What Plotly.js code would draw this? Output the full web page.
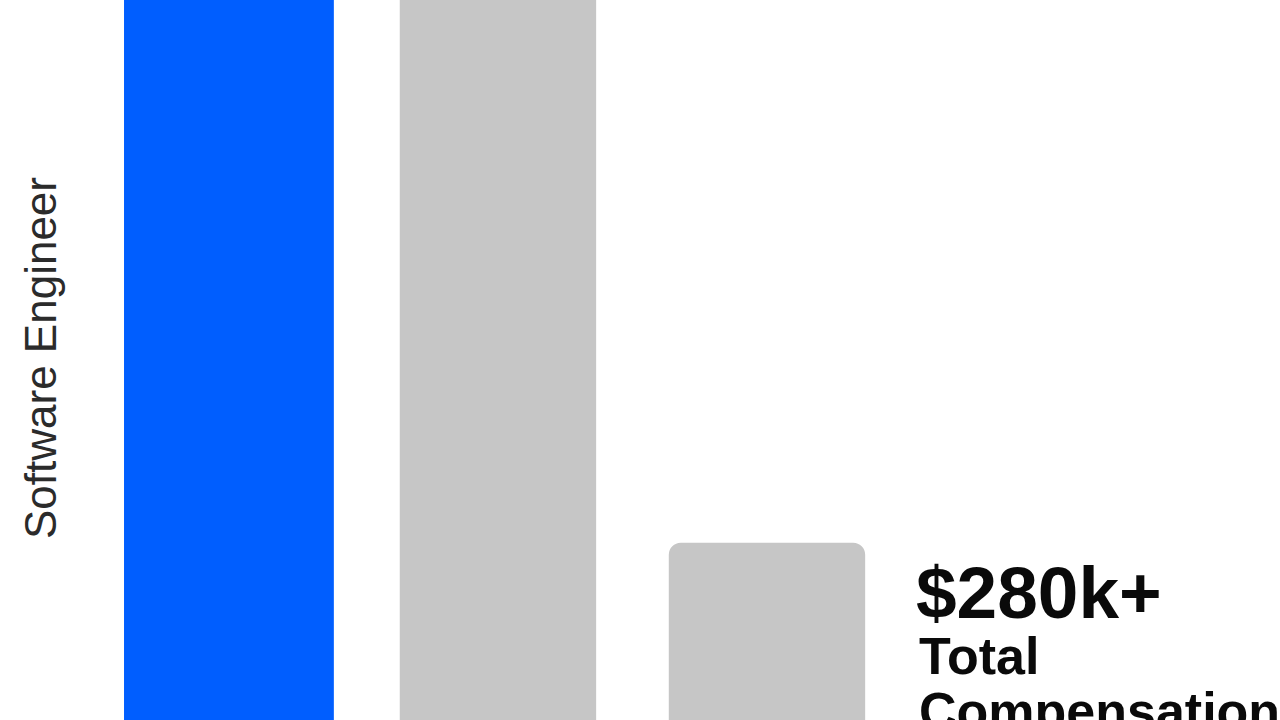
<!DOCTYPE html>
<html>
<head>
<meta charset="utf-8">
<script src="https://cdn.plot.ly/plotly-3.0.1.min.js"></script>
<style>
html,body{margin:0;padding:0;background:#fff;overflow:hidden;}
#chart{width:1280px;height:720px;}
</style>
</head>
<body>
<div id="chart"></div>
<script>
// Data
const categories = [0, 1, 2];
const roles = ["Software Engineer", "Comparison A", "Comparison B"];
const values = [620, 560, 280]; // $k, first two exceed the visible area
const barColors = ["#005EFF", "#C6C6C6", "#C6C6C6"];
const barWidths = [0.78, 0.73, 0.73];
const headline = "$280k+";
const subline1 = "Total";
const subline2 = "Compensation";
const sideLabel = "Software Engineer";

const trace = {
  type: "bar",
  x: categories,
  y: values,
  width: barWidths,
  marker: {color: barColors, cornerradius: 12, line: {width: 0}},
  hoverinfo: "skip"
};

const font = "Liberation Sans, Arial, Helvetica, sans-serif";

const layout = {
  width: 1280, height: 720,
  margin: {l: 0, r: 0, t: 0, b: 0, pad: 0},
  paper_bgcolor: "#ffffff",
  plot_bgcolor: "#ffffff",
  showlegend: false,
  xaxis: {range: [-0.851, 3.907], visible: false, fixedrange: true},
  yaxis: {range: [200, 525], visible: false, fixedrange: true},
  annotations: [
    {
      text: sideLabel, xref: "paper", yref: "paper",
      x: 40/1280, y: 1 - 358/720, xanchor: "center", yanchor: "middle",
      textangle: -90, showarrow: false,
      font: {family: font, size: 44, color: "#2b2b2b", weight: 300}
    },
    {
      text: "<b>" + headline + "</b>", xref: "paper", yref: "paper",
      x: 914/1280, y: 1 - 592/720, xanchor: "left", yanchor: "middle",
      showarrow: false, align: "left",
      font: {family: font, size: 73, color: "#0a0a0a"}
    },
    {
      text: "<b>" + subline1 + "</b>", xref: "paper", yref: "paper",
      x: 917/1280, y: 1 - 656/720, xanchor: "left", yanchor: "middle",
      showarrow: false, align: "left",
      font: {family: font, size: 52, color: "#0a0a0a"}
    },
    {
      text: "<b>" + subline2 + "</b>", xref: "paper", yref: "paper",
      x: 917/1280, y: 1 - 711/720, xanchor: "left", yanchor: "middle",
      showarrow: false, align: "left",
      font: {family: font, size: 52, color: "#0a0a0a"}
    }
  ]
};

Plotly.newPlot("chart", [trace], layout, {displayModeBar: false, staticPlot: true});
</script>
</body>
</html>
